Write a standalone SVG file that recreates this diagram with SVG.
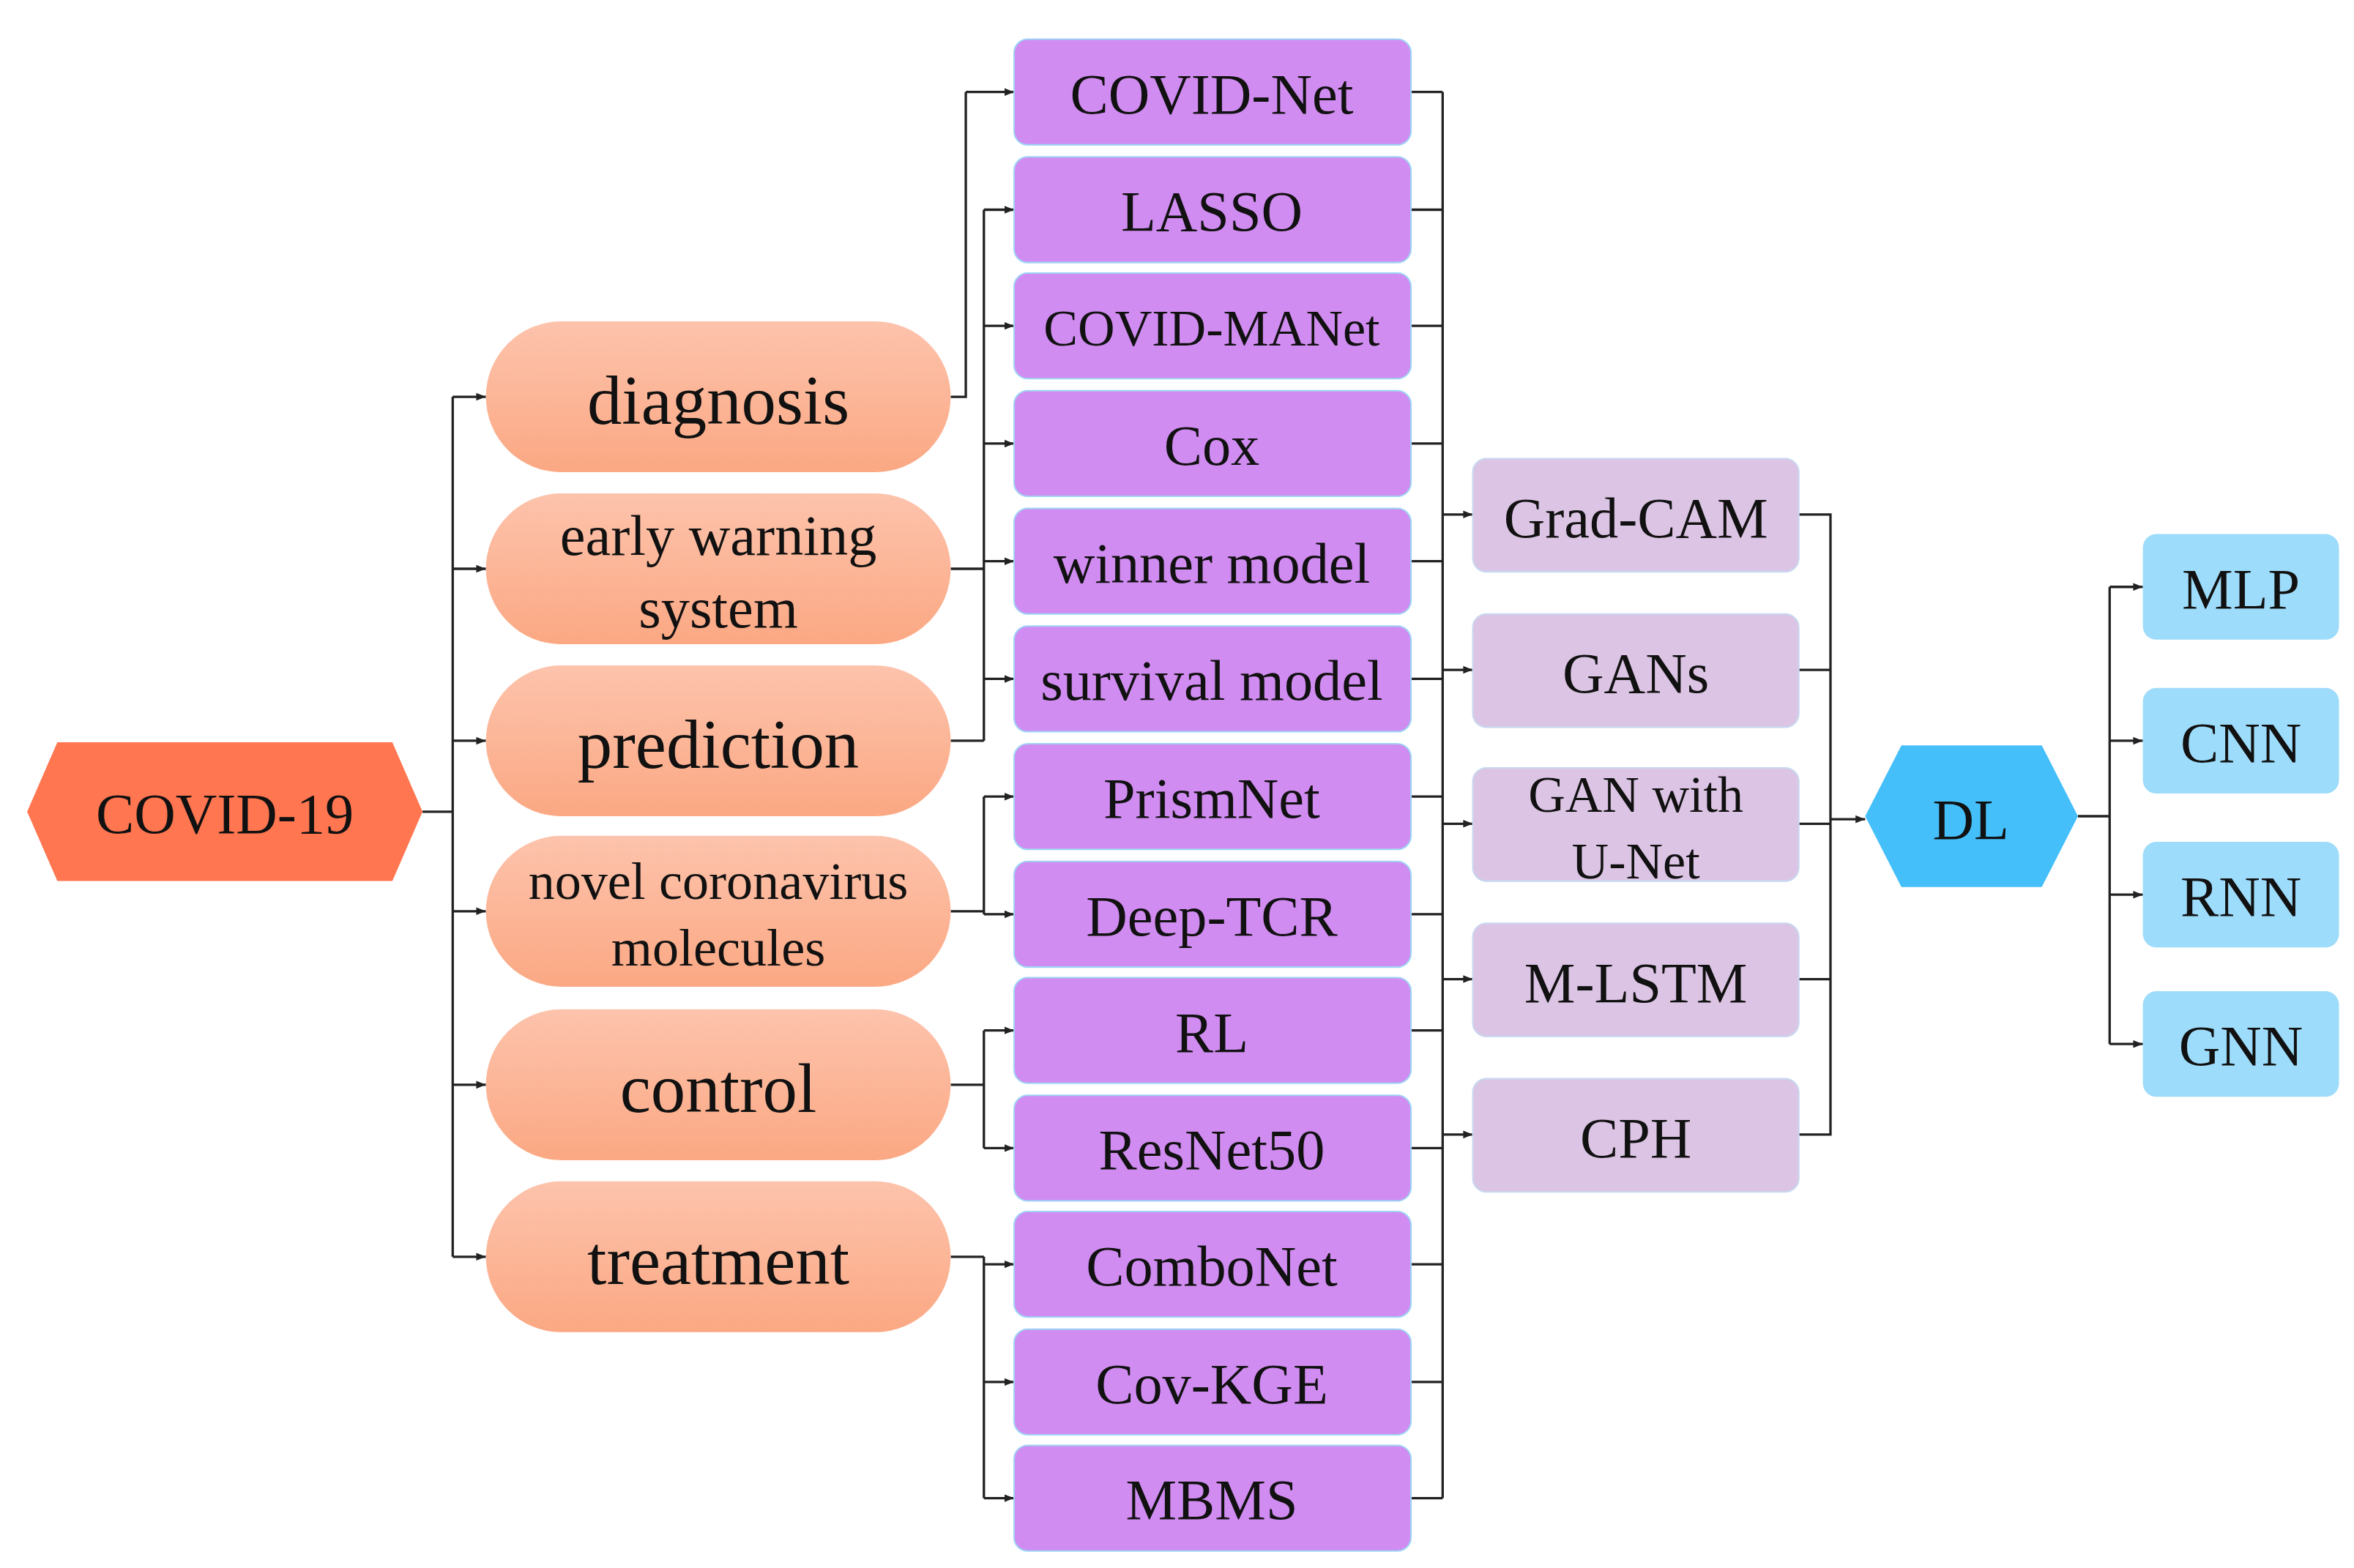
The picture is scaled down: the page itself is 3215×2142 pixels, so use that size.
<svg xmlns="http://www.w3.org/2000/svg" width="3215" height="2142" viewBox="0 0 3215 2142">
<defs>
<linearGradient id="pg" x1="0" y1="0" x2="0" y2="1"><stop offset="0" stop-color="#FDC3AC"/><stop offset="1" stop-color="#FBA883"/></linearGradient>
<marker id="a" viewBox="0 0 10 10" refX="10" refY="5" markerWidth="4" markerHeight="4" orient="auto"><path d="M0,1 L10,5 L0,9 z" fill="#222"/></marker>
</defs>
<style>
text{font-family:"Liberation Serif","Times New Roman",serif;fill:#111;text-anchor:middle}
.pill{fill:url(#pg)}
.pu{fill:#D08CF0;stroke:#9FD4F5;stroke-width:1}
.lv{fill:#DCC4E4;stroke:#C8D8F0;stroke-width:1}
.bl{fill:#9EDCFB}
.c path{fill:none;stroke:#222;stroke-width:1.6}
.ar{marker-end:url(#a)}
.t1{font-size:46px}
.t2{font-size:38px}
</style>
<rect width="3215" height="2142" fill="#fff"/>
<g transform="scale(2.061)">
<g class="c">
<path d="M280,538 H300 M300,263 V833"/>
<path class="ar" d="M300,263 H322"/><path class="ar" d="M300,377 H322"/><path class="ar" d="M300,491 H322"/><path class="ar" d="M300,604 H322"/><path class="ar" d="M300,719 H322"/><path class="ar" d="M300,833 H322"/>
<path d="M630,263 H640 V61"/><path class="ar" d="M640,61 H672"/>
<path d="M630,377 H652 M630,491 H652 M652,139 V491"/>
<path class="ar" d="M652,139 H672"/><path class="ar" d="M652,216 H672"/><path class="ar" d="M652,294 H672"/><path class="ar" d="M652,372 H672"/><path class="ar" d="M652,450 H672"/>
<path d="M630,604 H652 M652,528 V606"/><path class="ar" d="M652,528 H672"/><path class="ar" d="M652,606 H672"/>
<path d="M630,719 H652 M652,683 V761"/><path class="ar" d="M652,683 H672"/><path class="ar" d="M652,761 H672"/>
<path d="M630,833 H652 M652,833 V993"/><path class="ar" d="M652,838 H672"/><path class="ar" d="M652,916 H672"/><path class="ar" d="M652,993 H672"/>
<path d="M956,61 V993 M935,61 H956 M935,139 H956 M935,216 H956 M935,294 H956 M935,372 H956 M935,450 H956 M935,528 H956 M935,606 H956 M935,683 H956 M935,761 H956 M935,838 H956 M935,916 H956 M935,993 H956"/>
<path class="ar" d="M956,341 H976"/><path class="ar" d="M956,444 H976"/><path class="ar" d="M956,546 H976"/><path class="ar" d="M956,649 H976"/><path class="ar" d="M956,752 H976"/>
<path d="M1192,341 H1213 V752 H1192 M1192,444 H1213 M1192,546 H1213 M1192,649 H1213"/><path class="ar" d="M1213,543 H1236"/>
<path d="M1377,541 H1398 M1398,389 V692"/>
<path class="ar" d="M1398,389 H1420"/><path class="ar" d="M1398,491 H1420"/><path class="ar" d="M1398,593 H1420"/><path class="ar" d="M1398,692 H1420"/>
</g>
<g id="covid19"><polygon points="18,538 38,492 260,492 280,538 260,584 38,584" fill="#FF7650"/><text x="149" y="552" class="t2">COVID-19</text></g>
<g id="diagnosis"><rect class="pill" x="322" y="213" width="308" height="100" rx="50"/><text x="476" y="281" class="t1">diagnosis</text></g>
<g id="early"><rect class="pill" x="322" y="327" width="308" height="100" rx="50"/><text x="476" y="368" class="t2">early warning</text><text x="476" y="416" class="t2">system</text></g>
<g id="prediction"><rect class="pill" x="322" y="441" width="308" height="100" rx="50"/><text x="476" y="509" class="t1">prediction</text></g>
<g id="novel"><rect class="pill" x="322" y="554" width="308" height="100" rx="50"/><text x="476" y="596" class="t2" style="font-size:35px">novel coronavirus</text><text x="476" y="640" class="t2" style="font-size:35px">molecules</text></g>
<g id="control"><rect class="pill" x="322" y="669" width="308" height="100" rx="50"/><text x="476" y="737" class="t1">control</text></g>
<g id="treatment"><rect class="pill" x="322" y="783" width="308" height="100" rx="50"/><text x="476" y="851" class="t1">treatment</text></g>
<g id="covidnet"><rect class="pu" x="672" y="26" width="263" height="70" rx="9"/><text x="803" y="75" class="t2">COVID-Net</text></g>
<g id="lasso"><rect class="pu" x="672" y="104" width="263" height="70" rx="9"/><text x="803" y="153" class="t2">LASSO</text></g>
<g id="manet"><rect class="pu" x="672" y="181" width="263" height="70" rx="9"/><text x="803" y="229" class="t2" style="font-size:34px">COVID-MANet</text></g>
<g id="cox"><rect class="pu" x="672" y="259" width="263" height="70" rx="9"/><text x="803" y="308" class="t2">Cox</text></g>
<g id="winner"><rect class="pu" x="672" y="337" width="263" height="70" rx="9"/><text x="803" y="386" class="t2">winner model</text></g>
<g id="survival"><rect class="pu" x="672" y="415" width="263" height="70" rx="9"/><text x="803" y="464" class="t2">survival model</text></g>
<g id="prismnet"><rect class="pu" x="672" y="493" width="263" height="70" rx="9"/><text x="803" y="542" class="t2">PrismNet</text></g>
<g id="deeptcr"><rect class="pu" x="672" y="571" width="263" height="70" rx="9"/><text x="803" y="620" class="t2">Deep-TCR</text></g>
<g id="rl"><rect class="pu" x="672" y="648" width="263" height="70" rx="9"/><text x="803" y="697" class="t2">RL</text></g>
<g id="resnet"><rect class="pu" x="672" y="726" width="263" height="70" rx="9"/><text x="803" y="775" class="t2">ResNet50</text></g>
<g id="combonet"><rect class="pu" x="672" y="803" width="263" height="70" rx="9"/><text x="803" y="852" class="t2">ComboNet</text></g>
<g id="covkge"><rect class="pu" x="672" y="881" width="263" height="70" rx="9"/><text x="803" y="930" class="t2">Cov-KGE</text></g>
<g id="mbms"><rect class="pu" x="672" y="958" width="263" height="70" rx="9"/><text x="803" y="1007" class="t2">MBMS</text></g>
<g id="gradcam"><rect class="lv" x="976" y="304" width="216" height="75" rx="9"/><text x="1084" y="356" class="t2">Grad-CAM</text></g>
<g id="gans"><rect class="lv" x="976" y="407" width="216" height="75" rx="9"/><text x="1084" y="459" class="t2">GANs</text></g>
<g id="ganunet"><rect class="lv" x="976" y="509" width="216" height="75" rx="9"/><text x="1084" y="538" class="t2" style="font-size:34px">GAN with</text><text x="1084" y="582" class="t2" style="font-size:34px">U-Net</text></g>
<g id="mlstm"><rect class="lv" x="976" y="612" width="216" height="75" rx="9"/><text x="1084" y="664" class="t2">M-LSTM</text></g>
<g id="cph"><rect class="lv" x="976" y="715" width="216" height="75" rx="9"/><text x="1084" y="767" class="t2">CPH</text></g>
<g id="dl"><polygon points="1236,541 1260,494 1353,494 1377,541 1353,588 1260,588" fill="#45BFFA"/><text x="1306" y="556" class="t2">DL</text></g>
<g id="mlp"><rect class="bl" x="1420" y="354" width="130" height="70" rx="9"/><text x="1485" y="403" class="t2">MLP</text></g>
<g id="cnn"><rect class="bl" x="1420" y="456" width="130" height="70" rx="9"/><text x="1485" y="505" class="t2">CNN</text></g>
<g id="rnn"><rect class="bl" x="1420" y="558" width="130" height="70" rx="9"/><text x="1485" y="607" class="t2">RNN</text></g>
<g id="gnn"><rect class="bl" x="1420" y="657" width="130" height="70" rx="9"/><text x="1485" y="706" class="t2">GNN</text></g>
</g>
</svg>
